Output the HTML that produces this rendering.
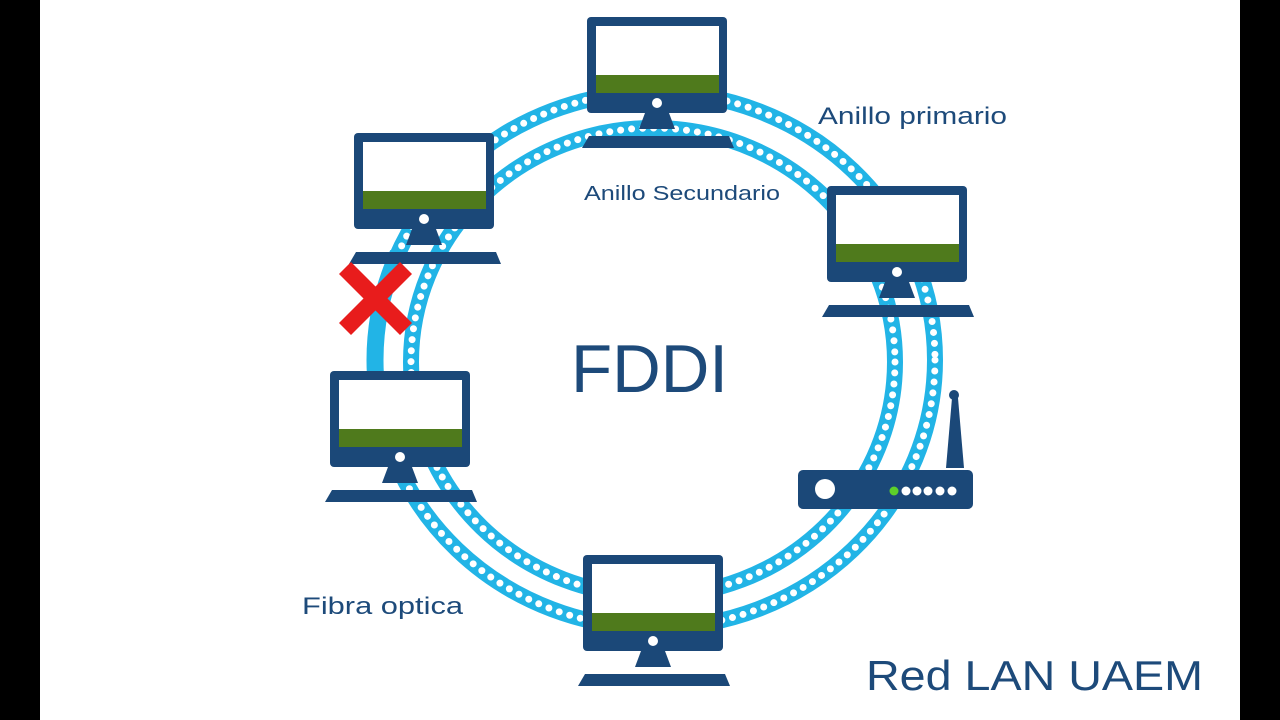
<!DOCTYPE html>
<html><head><meta charset="utf-8"><style>
html,body{margin:0;padding:0;background:#000;}
svg{display:block;}
text{font-family:"Liberation Sans",sans-serif;fill:#1d4a7a;}
</style></head><body>
<svg width="1280" height="720" viewBox="0 0 1280 720" xmlns="http://www.w3.org/2000/svg">
<rect x="0" y="0" width="1280" height="720" fill="#000"/>
<rect x="40" y="0" width="1200" height="720" fill="#fff"/>
<defs>
<g id="mon">
  <rect x="0" y="0" width="140" height="96" rx="4" fill="#1b4878"/>
  <rect x="9" y="9" width="123" height="49" fill="#fff"/>
  <rect x="9" y="58" width="123" height="18" fill="#4f7a1c"/>
  <circle cx="70" cy="86" r="5" fill="#fff"/>
  <polygon points="58,96 82,96 88,112 52,112" fill="#1b4878"/>
  <polygon points="2,119 142,119 147,131 -5,131" fill="#1b4878"/>
</g>
<clipPath id="seg"><rect x="355" y="250" width="50" height="125"/></clipPath>
</defs>
<ellipse cx="655" cy="360" rx="280" ry="268" fill="none" stroke="#22b4e6" stroke-width="16"/>
<ellipse cx="655" cy="360" rx="280" ry="268" fill="none" stroke="#fff" stroke-width="7" stroke-linecap="round" stroke-dasharray="0 11"/>
<ellipse cx="653" cy="362" rx="242" ry="234" fill="none" stroke="#22b4e6" stroke-width="16"/>
<ellipse cx="653" cy="362" rx="242" ry="234" fill="none" stroke="#fff" stroke-width="7" stroke-linecap="round" stroke-dasharray="0 11"/>
<ellipse cx="655" cy="360" rx="280" ry="268" fill="none" stroke="#22b4e6" stroke-width="17" clip-path="url(#seg)"/>
<use href="#mon" x="587" y="17"/>
<use href="#mon" x="354" y="133"/>
<use href="#mon" x="827" y="186"/>
<use href="#mon" x="330" y="371"/>
<use href="#mon" x="583" y="555"/>
<path d="M946 468 L952 398 L958 398 L964 468 Z" fill="#1b4878"/>
<circle cx="954" cy="395" r="5" fill="#1b4878"/>
<rect x="798" y="470" width="175" height="39" rx="5" fill="#1b4878"/>
<circle cx="825" cy="489" r="10" fill="#fff"/>
<circle cx="894" cy="491" r="4.5" fill="#5dd02a"/>
<circle cx="906" cy="491" r="4.5" fill="#fff"/>
<circle cx="917" cy="491" r="4.5" fill="#fff"/>
<circle cx="928" cy="491" r="4.5" fill="#fff"/>
<circle cx="940" cy="491" r="4.5" fill="#fff"/>
<circle cx="952" cy="491" r="4.5" fill="#fff"/>
<g stroke="#e81c1c" stroke-width="17">
<line x1="345" y1="268" x2="406" y2="329"/>
<line x1="406" y1="268" x2="345" y2="329"/>
</g>
<text x="818" y="124" font-size="24" textLength="189" lengthAdjust="spacingAndGlyphs">Anillo primario</text>
<text x="584" y="200" font-size="20" textLength="196" lengthAdjust="spacingAndGlyphs">Anillo Secundario</text>
<text x="571" y="392" font-size="68" textLength="157" lengthAdjust="spacingAndGlyphs">FDDI</text>
<text x="302" y="614" font-size="24" textLength="161" lengthAdjust="spacingAndGlyphs">Fibra optica</text>
<text x="866" y="690" font-size="42" textLength="337" lengthAdjust="spacingAndGlyphs">Red LAN UAEM</text>
</svg>
</body></html>
